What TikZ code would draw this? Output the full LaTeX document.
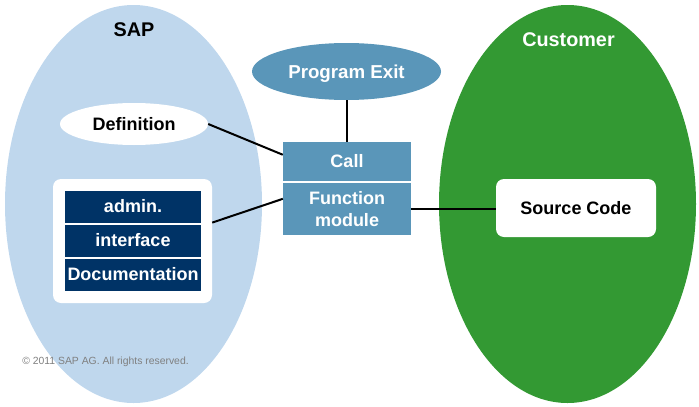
\documentclass[tikz,border=0pt]{standalone}
\usepackage{fontspec}
\setmainfont{Liberation Sans}
\usetikzlibrary{shapes.geometric}
\definecolor{sapblue}{HTML}{BFD7ED}
\definecolor{tealblue}{HTML}{5A96B9}
\definecolor{sapnavy}{HTML}{003366}
\definecolor{custgreen}{HTML}{339933}

\begin{document}
\begin{tikzpicture}[%
	x=1pt,y=-1pt,
	every node/.style = {align=center,inner sep=0pt,font=\fontsize{18}{21.5}\selectfont\bfseries},
	titletext/.style = {font=\fontsize{19.8}{23}\selectfont\bfseries},
	bigoval/.style = {shape=ellipse,minimum width=257pt,minimum height=398pt},
	smalloval/.style = {shape=ellipse},
	whitebox/.style = {shape=rectangle,rounded corners=8pt,fill=white},
	navyrow/.style = {shape=rectangle,fill=sapnavy,text=white,text depth=2.5pt,minimum width=136pt,minimum height=32pt},
	tealbox/.style = {shape=rectangle,fill=tealblue,text=white,minimum width=128pt},
	link/.style = {draw=black,line width=2pt}
	]
  \useasboundingbox (0,0) rectangle (699,407);
  \node [bigoval,fill=sapblue] (sap) at (133.5,204) {};
  \node [bigoval,fill=custgreen] (cust) at (567.5,204) {};
  \node [titletext] (saplabel) at (134,30) {SAP};
  \node [titletext,text=white] (custlabel) at (568.5,40) {Customer};
  \node [smalloval,fill=tealblue,text=white,text depth=0pt,font=\fontsize{18.7}{22}\selectfont\bfseries,minimum width=189pt,minimum height=57pt] (exit) at (346.5,71.5) {Program Exit};
  \node [smalloval,fill=white,minimum width=148pt,minimum height=42pt] (defn) at (134,124) {Definition};
  \node [whitebox,minimum width=159pt,minimum height=124pt] (objects) at (132.5,241) {};
  \node [navyrow] (admin) at (133,207) {admin.};
  \node [navyrow] (iface) at (133,241) {interface};
  \node [navyrow] (docu) at (133,275) {Documentation};
  \node [tealbox,text depth=2pt,minimum height=39pt] (call) at (347,161.5) {Call};
  \node [tealbox,minimum height=52pt] (fmod) at (347,209) {Function\\module};
  \node [whitebox,minimum width=160pt,minimum height=58pt] (source) at (576,208) {Source Code};
  \node [font=\fontsize{10.4}{12}\selectfont,text=black!50] (copy) at (105.5,362) {© 2011 SAP AG. All rights reserved.};
  \draw [link] (exit.south -| call.north) -- (call.north);
  \draw [link] (defn.east) -- (call.174);
  \draw [link] (objects.13) -- (fmod.171);
  \draw [link] (fmod.east) -- (fmod.east -| source.west);
\end{tikzpicture}
\end{document}
